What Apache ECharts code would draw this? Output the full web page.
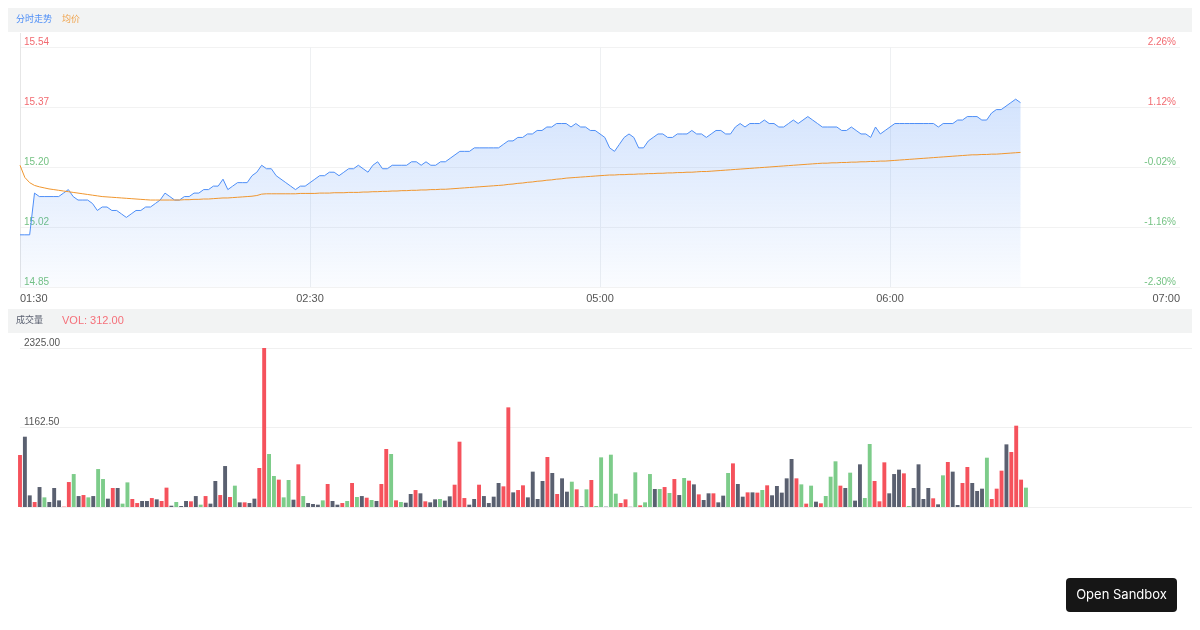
<!DOCTYPE html>
<html><head><meta charset="utf-8">
<script src="https://cdn.jsdelivr.net/npm/echarts@6/dist/echarts.min.js"></script>
<style>html,body{margin:0;padding:0;background:#fff}#c{width:1200px;height:630px}</style>
</head><body><div id="c"></div>
<script>
const timeLabels = ['01:30','02:30','05:00','06:00','07:00'];
const priceTicks = ['14.85','15.02','15.20','15.37','15.54'];
const pctTicks = ['-2.30%','-1.16%','-0.02%','1.12%','2.26%'];
const volTicks = ['0','1162.50','2325.00'];
const prices = [
15.00,15.00,15.00,15.12,15.11,15.11,15.11,15.11,15.11,15.12,
15.13,15.11,15.10,15.10,15.10,15.09,15.07,15.08,15.08,15.07,
15.07,15.06,15.05,15.06,15.07,15.07,15.08,15.08,15.09,15.10,
15.12,15.11,15.10,15.10,15.11,15.11,15.12,15.12,15.13,15.13,
15.14,15.14,15.16,15.13,15.14,15.15,15.15,15.15,15.17,15.18,
15.20,15.19,15.19,15.17,15.16,15.15,15.14,15.13,15.14,15.14,
15.15,15.16,15.17,15.17,15.18,15.18,15.17,15.18,15.19,15.19,
15.20,15.19,15.18,15.20,15.21,15.19,15.19,15.20,15.20,15.20,
15.20,15.21,15.21,15.20,15.21,15.20,15.20,15.21,15.21,15.22,
15.23,15.24,15.24,15.24,15.25,15.25,15.25,15.25,15.25,15.25,
15.26,15.27,15.27,15.28,15.28,15.29,15.29,15.30,15.30,15.31,
15.31,15.32,15.32,15.32,15.31,15.32,15.31,15.31,15.30,15.30,
15.29,15.28,15.25,15.24,15.26,15.28,15.29,15.28,15.25,15.25,
15.27,15.28,15.29,15.29,15.28,15.28,15.29,15.29,15.29,15.30,
15.29,15.29,15.28,15.29,15.30,15.30,15.29,15.29,15.31,15.32,
15.31,15.32,15.32,15.32,15.33,15.32,15.32,15.31,15.31,15.32,
15.33,15.32,15.33,15.34,15.33,15.32,15.31,15.31,15.31,15.31,
15.30,15.30,15.31,15.30,15.29,15.29,15.28,15.31,15.29,15.30,
15.31,15.32,15.32,15.32,15.32,15.32,15.32,15.32,15.32,15.32,
15.31,15.32,15.32,15.32,15.33,15.33,15.34,15.34,15.34,15.33,
15.33,15.35,15.36,15.36,15.37,15.38,15.39,15.38];
const avgPrices = [
15.200,15.165,15.150,15.142,15.138,15.135,15.132,15.130,15.128,15.126,
15.124,15.122,15.120,15.118,15.116,15.114,15.112,15.110,15.109,15.108,
15.107,15.106,15.105,15.104,15.103,15.102,15.101,15.100,15.100,15.100,
15.100,15.100,15.100,15.100,15.101,15.101,15.102,15.102,15.103,15.103,
15.104,15.105,15.106,15.106,15.107,15.108,15.109,15.110,15.111,15.113,
15.117,15.118,15.118,15.118,15.118,15.118,15.118,15.118,15.119,15.119,
15.119,15.119,15.120,15.120,15.120,15.121,15.121,15.121,15.122,15.122,
15.122,15.123,15.123,15.124,15.124,15.125,15.125,15.126,15.126,15.127,
15.127,15.128,15.128,15.129,15.129,15.130,15.130,15.131,15.131,15.132,
15.133,15.134,15.135,15.136,15.137,15.138,15.139,15.140,15.141,15.142,
15.143,15.145,15.146,15.148,15.149,15.151,15.152,15.154,15.155,15.157,
15.158,15.160,15.161,15.163,15.164,15.165,15.166,15.167,15.168,15.169,
15.170,15.171,15.172,15.172,15.173,15.173,15.174,15.174,15.175,15.175,
15.176,15.176,15.177,15.177,15.178,15.178,15.179,15.179,15.180,15.180,
15.181,15.182,15.182,15.183,15.184,15.185,15.186,15.187,15.188,15.189,
15.190,15.191,15.192,15.193,15.194,15.195,15.196,15.197,15.198,15.199,
15.200,15.201,15.202,15.203,15.204,15.205,15.206,15.206,15.207,15.207,
15.208,15.208,15.209,15.209,15.210,15.210,15.211,15.211,15.212,15.212,
15.213,15.214,15.215,15.216,15.217,15.218,15.219,15.220,15.221,15.222,
15.223,15.224,15.225,15.226,15.227,15.228,15.229,15.230,15.230,15.231,
15.231,15.232,15.232,15.233,15.234,15.235,15.236,15.237];
const volumes = [
760,1028,170,73,292,141,73,278,97,5,365,482,160,175,141,160,555,409,122,278,
278,49,360,117,58,88,88,131,112,88,283,19,73,15,88,83,160,34,160,49,
380,175,599,146,312,68,68,58,122,570,2325,775,453,400,141,395,107,624,160,58,
44,34,97,336,88,34,58,88,351,146,160,136,102,88,336,848,775,97,73,63,
190,248,200,83,68,112,117,93,156,326,955,131,34,117,326,160,58,151,351,302,
1457,214,248,317,141,517,117,380,731,497,190,419,224,370,258,10,258,395,15,726,
5,765,195,58,112,3,507,24,68,482,263,263,292,205,409,175,424,385,331,185,
102,200,200,68,166,497,638,336,151,214,214,210,249,317,171,307,210,419,702,419,
331,49,312,78,54,161,443,668,312,278,502,93,624,132,921,380,83,653,200,482,
546,492,15,278,624,117,278,127,39,463,658,517,29,351,585,351,234,268,721,117,
268,531,916,804,1189,400,283];
const volDirs = [
'r','k','k','r','k','g','k','k','k','r','r','g','k','r','g','k','g','g','k','r',
'k','g','g','r','r','k','k','r','k','r','r','k','g','k','k','r','k','g','r','k',
'k','r','k','r','g','k','r','k','k','r','r','g','g','r','g','g','k','r','g','k',
'k','k','g','r','k','k','r','g','r','g','k','r','g','k','r','r','g','r','g','k',
'k','r','k','r','k','k','g','k','k','r','r','r','k','k','r','k','k','k','k','r',
'r','k','r','r','k','k','k','k','r','k','r','k','k','g','r','k','g','r','g','g',
'k','g','g','r','r','k','g','r','g','g','k','g','r','g','r','k','g','r','k','r',
'k','k','r','k','k','g','r','k','k','r','k','r','g','r','k','k','k','k','k','r',
'g','r','g','k','r','g','g','g','r','k','g','k','k','g','g','r','r','r','k','k',
'k','r','g','k','k','k','k','r','k','g','r','k','k','r','r','k','k','k','g','r',
'r','r','k','r','r','r','g'];

const colorMap = {r:'#f5525c', g:'#7dcc8a', k:'#5a6070'};
const cats = []; for (let i = 0; i <= 240; i++) cats.push(i);
const tickIdx = {0:0, 60:1, 120:2, 180:3, 240:4};
const RED = '#f26a70', GREEN = '#74c283';
const pColor = i => i >= 3 ? RED : GREEN;

const chart = echarts.init(document.getElementById('c'));
chart.setOption({
  animation: false,
  graphic: [
    {type:'rect', shape:{x:8,y:8,width:1184,height:24}, style:{fill:'#f2f3f3'}, z:-1},
    {type:'text', left:16, top:14, style:{text:'分时走势', fill:'#4d8ef7', font:'9px "Noto Sans CJK SC"'}},
    {type:'text', left:62, top:14, style:{text:'均价', fill:'#f0a24a', font:'9px "Noto Sans CJK SC"'}},
    {type:'rect', shape:{x:8,y:309,width:1184,height:24}, style:{fill:'#f2f3f3'}, z:-1},
    {type:'text', left:16, top:315, style:{text:'成交量', fill:'#5a6070', font:'9px "Noto Sans CJK SC"'}},
    {type:'text', left:62, top:315, style:{text:'VOL: 312.00', fill:'#f5707a', font:'11px sans-serif'}},
    {type:'line', shape:{x1:20.5,y1:33,x2:20.5,y2:47}, style:{stroke:'#e6e6e6'}},
    {type:'rect', shape:{x:1066,y:578,width:111,height:34,r:4}, style:{fill:'#161616'}},
    {type:'text', x:1121.5, y:595, style:{text:'Open Sandbox', fill:'#fff', font:'13px Inter', align:'center', verticalAlign:'middle'}}
  ],
  grid: [
    {left:20, right:20, top:47, height:240},
    {left:20, right:8, top:348, height:159}
  ],
  xAxis: [
    {type:'category', gridIndex:0, data:cats, boundaryGap:false,
     axisLine:{show:false}, axisTick:{show:false},
     axisLabel:{interval:(i)=> i%60===0, formatter:(v)=>timeLabels[tickIdx[v]] ?? '', color:'#555', fontSize:11, margin:6, alignMinLabel:'left', alignMaxLabel:'right'},
     splitLine:{show:true, interval:(i)=> i%60===0 && i>0 && i<240, lineStyle:{color:'#eef0f2'}}},
    {type:'category', gridIndex:1, data:cats, boundaryGap:false, show:false}
  ],
  yAxis: [
    {type:'value', gridIndex:0, min:14.85, max:15.54, show:false},
    {type:'value', gridIndex:0, min:0, max:4, interval:1, position:'left',
     axisLine:{show:true, lineStyle:{color:'#e6e6e6'}}, axisTick:{show:false},
     axisLabel:{inside:true, verticalAlign:'bottom', margin:4, fontSize:10, formatter:(v)=>priceTicks[v], color:(v)=>pColor(+v)},
     splitLine:{show:true, lineStyle:{color:'#f2f2f2', width:1}}},
    {type:'value', gridIndex:0, min:0, max:4, interval:1, position:'right',
     axisLine:{show:false}, axisTick:{show:false},
     axisLabel:{inside:true, verticalAlign:'bottom', margin:4, fontSize:10, formatter:(v)=>pctTicks[v], color:(v)=>pColor(+v)},
     splitLine:{show:false}},
    {type:'value', gridIndex:1, min:0, max:2325, interval:1162.5,
     axisLine:{show:false}, axisTick:{show:false},
     axisLabel:{inside:true, verticalAlign:'bottom', margin:4, fontSize:10, color:'#555', showMinLabel:false,
       formatter:(v)=> v===0 ? '' : (v===2325 ? volTicks[2] : volTicks[1])},
     splitLine:{show:true, lineStyle:{color:'#f0f0f0', width:1}}}
  ],
  series: [
    {type:'line', xAxisIndex:0, yAxisIndex:0, data:prices, showSymbol:false, smooth:false,
     lineStyle:{color:'#4d8ef7', width:1},
     areaStyle:{color:new echarts.graphic.LinearGradient(0,0,0,1,[{offset:0,color:'rgba(77,142,247,0.35)'},{offset:1,color:'rgba(77,142,247,0.04)'}])}},
    {type:'line', xAxisIndex:0, yAxisIndex:0, data:avgPrices, showSymbol:false,
     lineStyle:{color:'#f0962e', width:1}},
    {type:'bar', xAxisIndex:1, yAxisIndex:3, barWidth:'80%',
     data: volumes.map((v,i)=>({value:v, itemStyle:{color:colorMap[volDirs[i]]}}))}
  ]
});
</script></body></html>
